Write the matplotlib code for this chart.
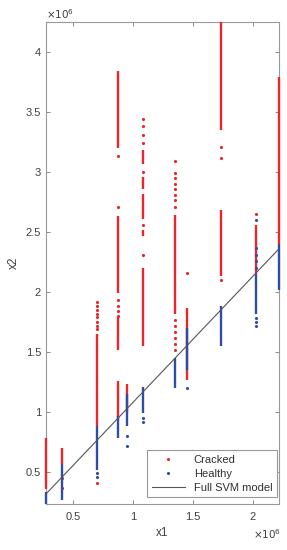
import numpy as np
import matplotlib.pyplot as plt
from matplotlib.ticker import FuncFormatter

plt.rcParams['font.family'] = ['Liberation Sans', 'DejaVu Sans']

# all values in units of 1e6
# cracked samples: dense vertical runs (x, low, high) + isolated points
cr_run_x  = [0.275, 0.408, 0.70, 0.875, 0.875, 0.875, 0.875, 0.95,
             1.083, 1.083, 1.083, 1.083, 1.083, 1.35, 1.45, 1.733, 1.733, 2.025, 2.217]
cr_run_lo = [0.36, 0.57, 0.88, 3.20, 1.99, 1.52, 0.93, 1.00,
             3.07, 2.86, 2.61, 2.47, 1.55, 1.82, 1.27, 3.35, 2.13, 2.15, 2.40]
cr_run_hi = [0.78, 0.70, 1.65, 3.84, 2.63, 1.79, 1.26, 1.23,
             3.18, 2.96, 2.82, 2.52, 2.20, 2.64, 1.87, 4.25, 2.68, 2.56, 3.79]

cr_pt_x = [0.408, 0.408,
           0.70, 0.70, 0.70, 0.70, 0.70, 0.70, 0.70, 0.70, 0.70,
           0.875, 0.875, 0.875, 0.875, 0.875, 0.875,
           1.083, 1.083, 1.083, 1.083, 1.083, 1.083, 1.083,
           1.35, 1.35, 1.35, 1.35, 1.35, 1.35, 1.35, 1.35,
           1.35, 1.35, 1.35, 1.35, 1.35, 1.35,
           1.45, 1.733, 1.733, 1.733, 2.025]
cr_pt_y = [0.37, 0.45,
           0.41, 1.69, 1.72, 1.75, 1.79, 1.82, 1.85, 1.88, 1.92,
           3.13, 2.71, 1.80, 1.84, 1.88, 1.93,
           3.44, 3.38, 3.31, 3.24, 3.00, 2.56, 2.31,
           3.09, 2.99, 2.95, 2.90, 2.86, 2.81, 2.77, 2.71,
           1.77, 1.72, 1.67, 1.62, 1.57, 1.52,
           2.16, 3.21, 3.12, 2.10, 2.65]

# healthy samples
hl_run_x  = [0.275, 0.408, 0.70, 0.875, 0.95, 1.083, 1.35, 1.45, 1.733, 2.025, 2.217]
hl_run_lo = [0.23, 0.27, 0.52, 0.78, 0.88, 0.99, 1.20, 1.35, 1.55, 1.82, 2.02]
hl_run_hi = [0.33, 0.57, 0.88, 0.97, 1.15, 1.21, 1.45, 1.70, 1.88, 2.15, 2.40]

hl_pt_x = [0.70, 0.70, 0.95, 0.95, 1.083, 1.083, 1.45,
           2.025, 2.025, 2.025, 2.025, 2.025, 2.025, 2.025, 2.025]
hl_pt_y = [0.49, 0.46, 0.80, 0.72, 0.95, 0.92, 1.20,
           2.20, 2.26, 2.31, 2.37, 2.60, 1.78, 1.75, 1.72]

# SVM decision line end points
svm_x = [0.275, 2.217]
svm_y = [0.317, 2.36]

red = '#e8262b'
blue = '#2e4ea3'

fig = plt.figure(figsize=(2.87, 5.5), dpi=100)
ax = fig.add_axes([46/287, 46/550, 233/287, 482/550])

ax.vlines(cr_run_x, cr_run_lo, cr_run_hi, colors=red, lw=1.7, clip_on=False, zorder=3)
ax.plot(cr_pt_x, cr_pt_y, '.', color=red, ms=2.5, label='Cracked', clip_on=False, zorder=3)
ax.vlines(hl_run_x, hl_run_lo, hl_run_hi, colors=blue, lw=1.7, clip_on=False, zorder=4)
ax.plot(hl_pt_x, hl_pt_y, '.', color=blue, ms=2.5, label='Healthy', clip_on=False, zorder=4)
ax.plot(svm_x, svm_y, '-', color='#555555', lw=0.8, label='Full SVM model', zorder=5)

ax.set_xlim(0.275, 2.217)
ax.set_ylim(0.233, 4.25)
ax.set_xticks([0.5, 1, 1.5, 2])
ax.set_yticks([0.5, 1, 1.5, 2, 2.5, 3, 3.5, 4])
fmt = FuncFormatter(lambda v, p: '%g' % v)
ax.xaxis.set_major_formatter(fmt)
ax.yaxis.set_major_formatter(fmt)

ax.tick_params(direction='in', length=3, width=0.6, color='#777777',
               labelsize=8, labelcolor='#404040', top=True, right=True)
ax.tick_params(axis='x', pad=6)
for s in ax.spines.values():
    s.set_color('#999999')
    s.set_linewidth(0.8)

ax.set_xlabel('x1', fontsize=8.5, color='#404040', labelpad=3)
ax.set_ylabel('x2', fontsize=8.5, color='#404040', labelpad=4)

fig.text(46/287, 1 - 19/550, r'$\times10^{6}$', fontsize=7.5, color='#404040', ha='left', va='baseline')
fig.text(281/287, 1 - 539/550, r'$\times10^{6}$', fontsize=7.5, color='#404040', ha='right', va='baseline')

leg = ax.legend(loc='lower right', bbox_to_anchor=(0.991, 0.0145), borderaxespad=0,
                fontsize=8, fancybox=False, edgecolor='#999999', framealpha=1,
                handlelength=3.0, markerscale=1.0, labelspacing=0.35)
leg.get_frame().set_linewidth(0.8)
leg.set_zorder(6)
for t in leg.get_texts():
    t.set_color('#303030')

fig.savefig('out.png', dpi=100)
